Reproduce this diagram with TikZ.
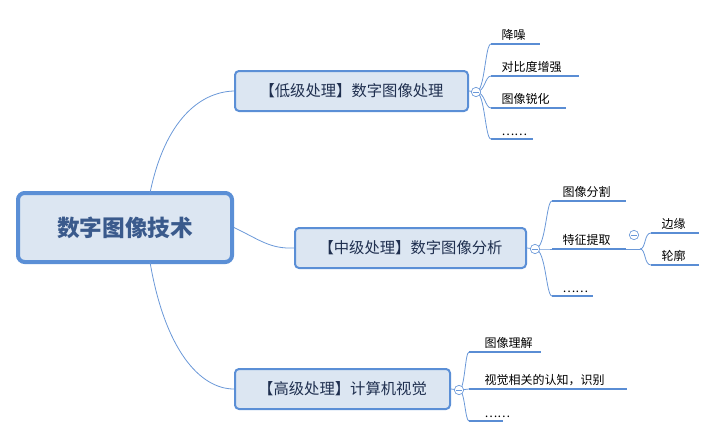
\documentclass[tikz,border=0pt]{standalone}
\usepackage{fontspec}
\setmainfont{Noto Sans CJK SC}
\definecolor{boxb}{HTML}{5B8FD6}\definecolor{boxf}{HTML}{DCE6F2}
\definecolor{txt}{HTML}{1F2F4F}\definecolor{lnc}{HTML}{6A98D8}\definecolor{ulc}{HTML}{5A8DD4}
\definecolor{boxt}{HTML}{3A5A8C}
\begin{document}
\begin{tikzpicture}[x=0.75pt,y=-0.75pt,
  box/.style={draw=boxb,fill=boxf,line width=1.5pt,rounded corners=3pt,inner sep=0pt,font=\fontsize{11.5}{13}\selectfont,text=txt},
  conn/.style={draw=lnc,line width=0.6pt},
  ul/.style={draw=ulc,line width=2pt},
  lab/.style={anchor=south west,inner sep=1pt,font=\fontsize{9}{10}\selectfont},
  tog/.style={circle,draw=lnc,fill=white,minimum size=7pt,inner sep=0pt,line width=0.5pt}]
\useasboundingbox (0,0) rectangle (717,439);
% root
\node[box,line width=3pt,rounded corners=5pt,minimum width=160.5pt,minimum height=51.75pt,font=\fontsize{17}{20}\selectfont\bfseries,text=boxt] (root) at (125,227.5) {数字图像技术};
\node[box,minimum width=174.75pt,minimum height=30pt] (l1) at (351.5,91) {【低级处理】数字图像处理};
\node[box,minimum width=173.25pt,minimum height=30pt] (l2) at (410.5,248) {【中级处理】数字图像分析};
\node[box,minimum width=161.25pt,minimum height=30pt] (l3) at (342.5,389) {【高级处理】计算机视觉};
\coordinate (rt) at (150,193); \coordinate (rb) at (150,262);
\draw[conn] (rt) .. controls (165,120) and (200,92) .. (l1.west);
\draw[conn] (root.east) .. controls (260,240) and (270,249) .. (l2.west);
\draw[conn] (rb) .. controls (165,350) and (200,389) .. (l3.west);
% L1 children
\coordinate (c1) at (476,92);
\draw[conn] (l1.east) -- (c1);
\foreach \n/\y/\xe/\t in {a/44/540/降噪,b/76/579/对比度增强,c/108/566/图像锐化,d/139/533/……}{
  \coordinate (s\n) at (491,\y); \coordinate (e\n) at (\xe,\y);
  \draw[conn] (c1) .. controls (485,92) and (485,\y) .. (s\n);
  \draw[ul] (s\n) -- (e\n);
  \node[lab] (t\n) at (500,\y-2) {\t};
}
\node[tog] (g1) at (c1) {}; \draw[lnc,line width=0.5pt] ([xshift=-2pt]g1.center) -- ([xshift=2pt]g1.center);
% L2 children
\coordinate (c2) at (535,249);
\draw[conn] (l2.east) -- (c2);
\foreach \n/\y/\xe/\t in {f/201/626/图像分割,g/249/626/特征提取,h/296/593/……}{
  \coordinate (s\n) at (552,\y); \coordinate (e\n) at (\xe,\y);
  \draw[conn] (c2) .. controls (546,249) and (546,\y) .. (s\n);
  \draw[ul] (s\n) -- (e\n);
  \node[lab] (t\n) at (561,\y-2) {\t};
}
\node[tog] (g2) at (c2) {}; \draw[lnc,line width=0.5pt] ([xshift=-2pt]g2.center) -- ([xshift=2pt]g2.center);
\coordinate (c4) at (640,249);
\draw[conn] (eg) -- (c4);
\foreach \n/\y/\t in {i/233/边缘,j/265/轮廓}{
  \coordinate (s\n) at (651,\y); \coordinate (e\n) at (699,\y);
  \draw[conn] (c4) .. controls (646,249) and (644,\y) .. (s\n);
  \draw[ul] (s\n) -- (e\n);
  \node[lab] (t\n) at (660,\y-2) {\t};
}
\node[tog] (g4) at (634,235) {}; \draw[lnc,line width=0.5pt] ([xshift=-2pt]g4.center) -- ([xshift=2pt]g4.center);
% L3 children
\coordinate (c3) at (459,390);
\draw[conn] (l3.east) -- (c3);
\foreach \n/\y/\xe/\t in {k/352/541/图像理解,l/389/627/视觉相关的认知，识别,m/421/503/……}{
  \coordinate (s\n) at (469,\y); \coordinate (e\n) at (\xe,\y);
  \draw[conn] (c3) .. controls (465,390) and (465,\y) .. (s\n);
  \draw[ul] (s\n) -- (e\n);
  \node[lab] (t\n) at (483,\y-2) {\t};
}
\node[tog] (g3) at (c3) {}; \draw[lnc,line width=0.5pt] ([xshift=-2pt]g3.center) -- ([xshift=2pt]g3.center);
\end{tikzpicture}
\end{document}
